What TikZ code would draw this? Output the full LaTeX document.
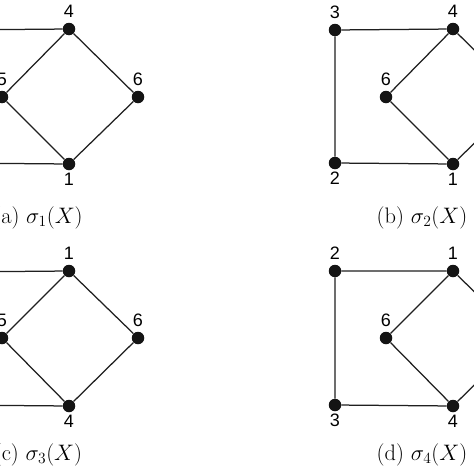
\documentclass[tikz,border=0pt]{standalone}
\usepackage{fontspec}
\newfontfamily\labfont{Liberation Sans}
\begin{document}
\begin{tikzpicture}[x=1pt,y=-1pt,
  dot/.style={circle,fill=black!92,inner sep=0pt,minimum size=12.5pt},
  edge/.style={line width=1.25pt,draw=black!88},
  labA/.style={label={[font=\labfont\fontsize{18}{18}\selectfont,inner sep=0pt,label distance=4.5pt]above:#1}},
  labB/.style={label={[font=\labfont\fontsize{18}{18}\selectfont,inner sep=0pt,label distance=2pt]below:#1}},
  captext/.style={anchor=base,font=\fontsize{20.74}{20.74}\selectfont,inner sep=0pt,scale=1.08,transform shape}]
\useasboundingbox (0,0) rectangle (474,474);
\clip (0,0) rectangle (474,474);
\fill[white] (0,0) rectangle (474,474);
% panel (a)
\begin{scope}[shift={(69,29)}]
  \node[dot] (aTL) at (-118,1) {};
  \node[dot] (aBL) at (-118,134) {};
  \node[dot,labA=4] (a4) at (0,0) {};
  \node[dot,labA=5] (a5) at (-67,68) {};
  \node[dot,labA=6] (a6) at (69,68) {};
  \node[dot,labB=1] (a1) at (0,135) {};
  \draw[edge] (aTL) -- (a4) (aTL) -- (aBL) (aBL) -- (a1)
              (a4) -- (a5) (a4) -- (a6) (a5) -- (a1) (a6) -- (a1);
  \node[captext] (capa) at (-31,194) {(a)~$\sigma_1(X)$};
\end{scope}
% panel (b)
\begin{scope}[shift={(453,29)}]
  \node[dot,labA=3] (b3) at (-118,1) {};
  \node[dot,labB=2] (b2) at (-118,134) {};
  \node[dot,labA=4] (b4) at (0,0) {};
  \node[dot,labA=6] (b6) at (-67,68) {};
  \node[dot] (b5) at (69,68) {};
  \node[dot,labB=1] (b1) at (0,135) {};
  \draw[edge] (b3) -- (b4) (b3) -- (b2) (b2) -- (b1)
              (b4) -- (b6) (b4) -- (b5) (b6) -- (b1) (b5) -- (b1);
  \node[captext] (capb) at (-31,194) {(b)~$\sigma_2(X)$};
\end{scope}
% panel (c)
\begin{scope}[shift={(69,271)}]
  \node[dot] (cTL) at (-118,1) {};
  \node[dot] (cBL) at (-118,134) {};
  \node[dot,labA=1] (c1) at (0,0) {};
  \node[dot,labA=5] (c5) at (-67,67) {};
  \node[dot,labA=6] (c6) at (69,67) {};
  \node[dot,labB=4] (c4) at (0,135) {};
  \draw[edge] (cTL) -- (c1) (cTL) -- (cBL) (cBL) -- (c4)
              (c1) -- (c5) (c1) -- (c6) (c5) -- (c4) (c6) -- (c4);
  \node[captext] (capc) at (-31,189) {(c)~$\sigma_3(X)$};
\end{scope}
% panel (d)
\begin{scope}[shift={(453,271)}]
  \node[dot,labA=2] (d2) at (-118,0) {};
  \node[dot,labB=3] (d3) at (-118,134) {};
  \node[dot,labA=1] (d1) at (0,0) {};
  \node[dot,labA=6] (d6) at (-67,67) {};
  \node[dot] (d5) at (69,67) {};
  \node[dot,labB=4] (d4) at (0,135) {};
  \draw[edge] (d2) -- (d1) (d2) -- (d3) (d3) -- (d4)
              (d1) -- (d6) (d1) -- (d5) (d6) -- (d4) (d5) -- (d4);
  \node[captext] (capd) at (-31,189) {(d)~$\sigma_4(X)$};
\end{scope}
\end{tikzpicture}
\end{document}
